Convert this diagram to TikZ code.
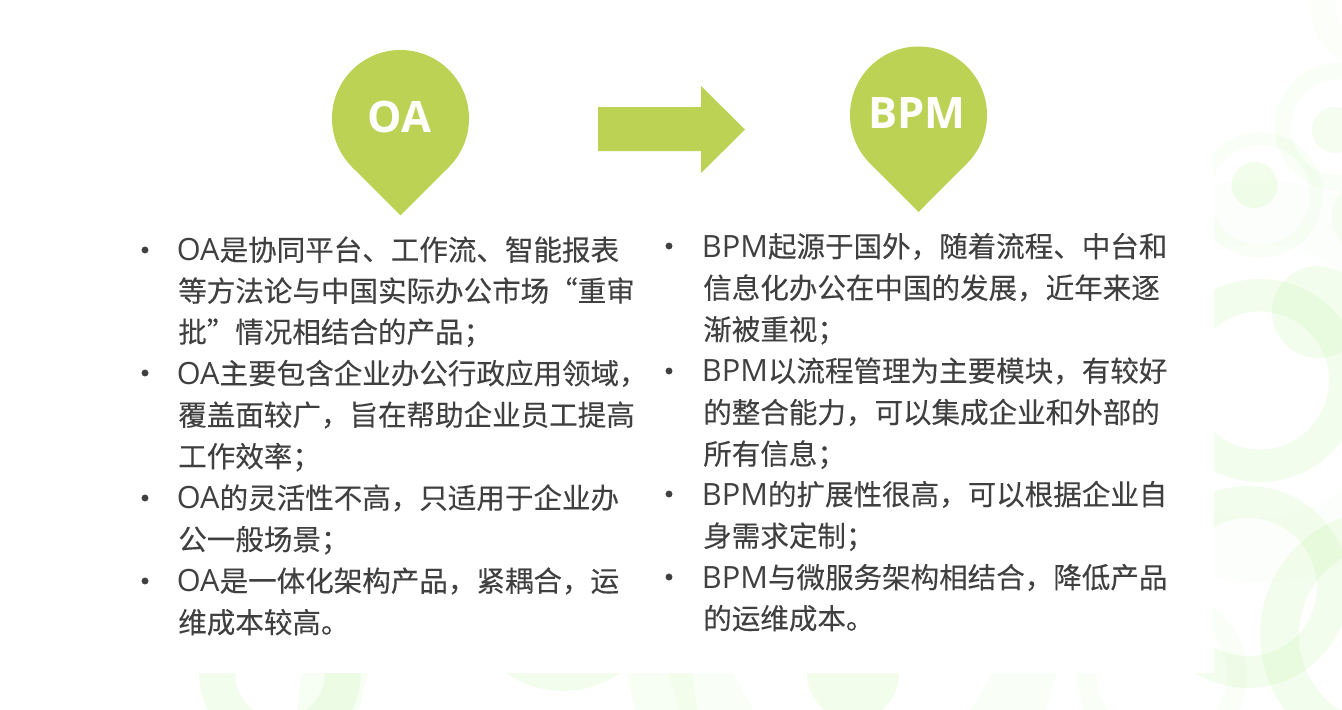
\documentclass[tikz,border=0pt]{standalone}
\usepackage{fontspec}
\setmainfont[FakeBold=0.12]{Noto Sans CJK SC}
\newfontfamily\capfont{Open Sans}
\newcommand{\lat}[1]{{\capfont\fontsize{23pt}{24pt}\selectfont\kern-1pt #1}}
\definecolor{pingreen}{HTML}{BBD255}
\definecolor{bodytext}{HTML}{404040}
\definecolor{bggreen}{HTML}{99F26A}
\newcommand{\ringat}[5]{\fill[bggreen,opacity=#5,even odd rule] (#1,#2) circle[radius=#3*0.75pt] (#1,#2) circle[radius=#4*0.75pt];}
\newcommand{\dotat}[4]{\fill[bggreen,opacity=#4] (#1,#2) circle[radius=#3*0.75pt];}
\tikzset{
  linetxt/.style={anchor=base west,inner sep=0pt,text=bodytext,font=\fontsize{21.4pt}{24pt}\selectfont},
  bullettxt/.style={anchor=center,inner sep=0pt,circle,fill=bodytext,minimum size=5.2pt},
  pinhead/.style={circle,fill=pingreen,inner sep=0pt,minimum size=102.75pt},
  pintxt/.style={anchor=center,inner sep=0pt,text=white,font=\capfont\bfseries\fontsize{32.5pt}{36pt}\selectfont},
}
\begin{document}
\begin{tikzpicture}[x=0.75pt,y=-0.75pt]
\useasboundingbox (0,0) rectangle (1342,710);
\fill[white] (0,0) rectangle (1342,710);
% background rings
\ringat{1375}{5}{65}{40}{0.04}
\ringat{1339}{127}{64}{48}{0.05}
\dotat{1335}{130}{23}{0.10}
\ringat{1260}{195}{62.5}{50}{0.06}
\dotat{1254.5}{185}{23}{0.12}
\dotat{1372}{217}{40}{0.07}
\ringat{1259}{381}{201}{137}{0.025}
\ringat{1260}{380.5}{101.5}{69}{0.11}
\dotat{1318}{312}{46}{0.11}
\ringat{1248}{587}{101}{69}{0.11}
\fill[bggreen,opacity=0.11,even odd rule] (1385,635) circle[radius=125*0.75pt] (1389,635) circle[radius=90*0.75pt];
\ringat{1162}{675}{85}{65}{0.05}
\ringat{280}{673}{81}{45}{0.11}
\dotat{563}{592}{99}{0.11}
\dotat{853}{674}{46}{0.12}
\fill[bggreen,opacity=0.07] (302,673) -- (368,673) -- (359,710) -- (297,710) -- cycle;
\fill[bggreen,opacity=0.07] (627,673) -- (692,673) -- (697,710) -- (635,710) -- cycle;
\fill[bggreen,opacity=0.05] (668,673) -- (733,673) -- (753,710) -- (679,710) -- cycle;
\fill[bggreen,opacity=0.05] (993,673) -- (1057,673) -- (1046,710) -- (971,710) -- cycle;
% white panel
\fill[white] (0,0) rectangle (1214,673);
% pins
\fill[pingreen] (352.1,167) -- (400.5,215.4) -- (448.9,167) -- cycle;
\node[pinhead] (oapin) at (400.5,118.5) {};
\node[pintxt] (oalabel) at (399.5,117.5) {OA};
\fill[pingreen] (870.1,163.5) -- (918.5,212) -- (966.9,163.5) -- cycle;
\node[pinhead] (bpmpin) at (918.5,115) {};
\node[pintxt] (bpmlabel) at (917,113.5) {BPM};
% arrow
\fill[pingreen] (598,107) -- (701,107) -- (701,86) -- (745,129.5) -- (701,173) -- (701,151) -- (598,151) -- cycle;
% left column
\node[bullettxt] (lb1) at (145,250) {};
\node[bullettxt] (lb2) at (145,373) {};
\node[bullettxt] (lb3) at (145,498) {};
\node[bullettxt] (lb4) at (145,581) {};
\node[linetxt] (l1) at (178,260.5) {\lat{OA}是协同平台、工作流、智能报表};
\node[linetxt] (l2) at (178,301.5) {等方法论与中国实际办公市场“重审};
\node[linetxt] (l3) at (178,342.5) {批”情况相结合的产品；};
\node[linetxt] (l4) at (178,384) {\lat{OA}主要包含企业办公行政应用领域，};
\node[linetxt] (l5) at (178,425.5) {覆盖面较广，旨在帮助企业员工提高};
\node[linetxt] (l6) at (178,467) {工作效率；};
\node[linetxt] (l7) at (178,508.5) {\lat{OA}的灵活性不高，只适用于企业办};
\node[linetxt] (l8) at (178,550) {公一般场景；};
\node[linetxt] (l9) at (178,591.5) {\lat{OA}是一体化架构产品，紧耦合，运};
\node[linetxt] (l10) at (178,633) {维成本较高。};
% right column
\node[bullettxt] (rb1) at (669,246) {};
\node[bullettxt] (rb2) at (669,371) {};
\node[bullettxt] (rb3) at (669,494) {};
\node[bullettxt] (rb4) at (669,577) {};
\node[linetxt] (r1) at (703,257) {\lat{BPM}起源于国外，随着流程、中台和};
\node[linetxt] (r2) at (703,298.5) {信息化办公在中国的发展，近年来逐};
\node[linetxt] (r3) at (703,340) {渐被重视；};
\node[linetxt] (r4) at (703,381.5) {\lat{BPM}以流程管理为主要模块，有较好};
\node[linetxt] (r5) at (703,423) {的整合能力，可以集成企业和外部的};
\node[linetxt] (r6) at (703,464.5) {所有信息；};
\node[linetxt] (r7) at (703,505) {\lat{BPM}的扩展性很高，可以根据企业自};
\node[linetxt] (r8) at (703,546.5) {身需求定制；};
\node[linetxt] (r9) at (703,588) {\lat{BPM}与微服务架构相结合，降低产品};
\node[linetxt] (r10) at (703,629) {的运维成本。};
\end{tikzpicture}
\end{document}
